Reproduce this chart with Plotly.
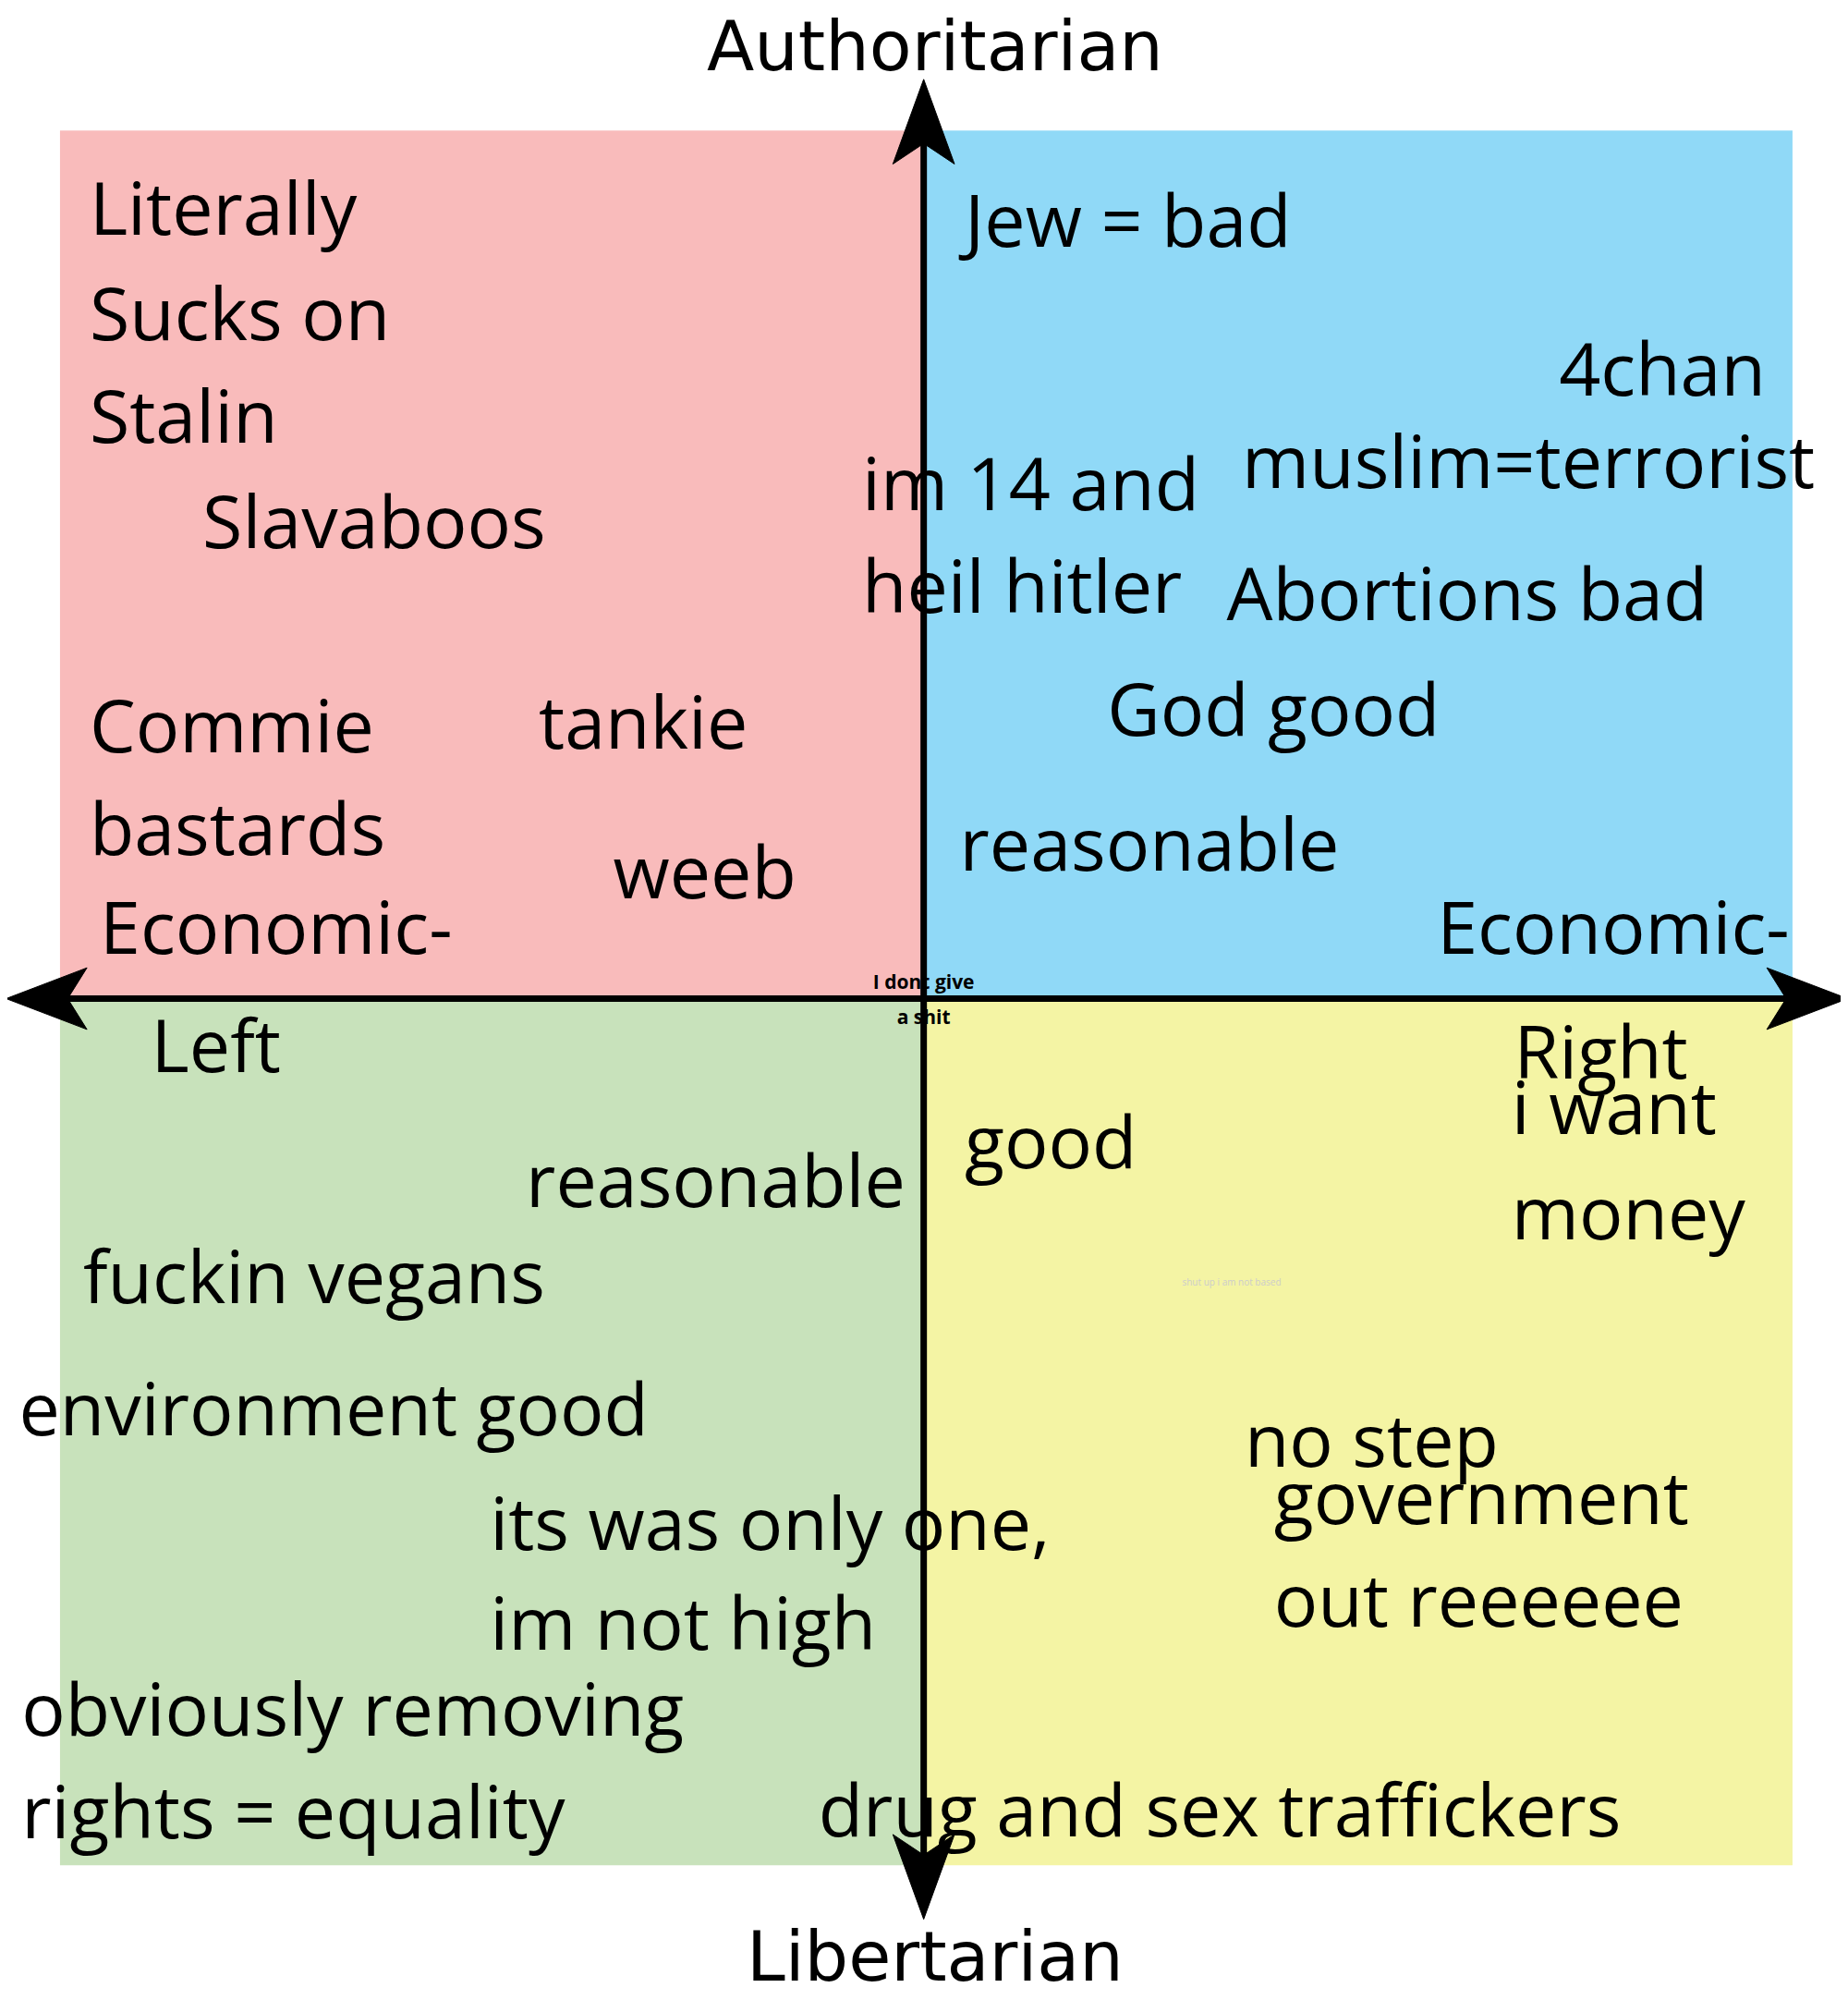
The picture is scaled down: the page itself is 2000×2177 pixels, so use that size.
import plotly.graph_objects as go

# chart drawn in the 1440 x 1567 grid of the source picture
W, H = 1440, 1567
PAGE_SHIFT = 6  # compensates the browser's default body margin
TEXT_DROP = 6   # text boxes sit slightly high in plotly, nudge them down
CX, CY = 720, 778
LEFT, RIGHT, TOP, BOTTOM = 47, 1397, 102, 1453

quadrant_colors = {"auth_left": "#f9bbbb", "auth_right": "#90d9f7",
                   "lib_left": "#c8e2bb", "lib_right": "#f4f4a4"}

labels = ["Literally", "Sucks on", "Stalin", "Slavaboos", "Commie", "bastards",
          "tankie", "weeb", "Economic-", "Left",
          "Jew = bad", "4chan", "muslim=terrorist", "im 14 and", "heil hitler",
          "Abortions bad", "God good", "reasonable", "Economic-", "Right",
          "i want", "money", "good", "reasonable", "fuckin vegans",
          "environment good", "its was only one,", "im not high",
          "obviously removing", "rights = equality", "drug and sex traffickers",
          "no step", "government", "out reeeeee"]
label_x = [70, 70, 70, 158, 70, 70, 420, 478, 78, 118,
           752, 1215, 968, 672, 672, 956, 863, 748, 1120, 1180,
           1178, 1178, 752, 410, 65, 15, 382, 382, 17, 17, 638,
           970, 993, 993]
label_y = [163, 245, 325, 407, 566, 646, 563, 680, 723, 815,
           172, 288, 360, 377, 457, 463, 553, 658, 723, 820,
           863, 945, 890, 920, 995, 1098, 1187, 1265, 1332, 1412, 1410,
           1122, 1167, 1247]

center_note = ["I dont give", "a shit"]
center_note_y = [765, 792]

fig = go.Figure()

rects = [("auth_left", LEFT, TOP, CX, CY), ("auth_right", CX, TOP, RIGHT, CY),
         ("lib_left", LEFT, CY, CX, BOTTOM), ("lib_right", CX, CY, RIGHT, BOTTOM)]
for key, x0, y0, x1, y1 in rects:
    fig.add_shape(type="rect", x0=x0, y0=y0, x1=x1, y1=y1,
                  fillcolor=quadrant_colors[key], line_width=0, layer="below")

# axes
fig.add_shape(type="line", x0=CX, y0=80, x1=CX, y1=1480, line=dict(color="black", width=7))
fig.add_shape(type="line", x0=20, y0=CY, x1=1425, y1=CY, line=dict(color="black", width=7))
heads = [
    f"M {CX},62 L {CX+24},128 L {CX},112 L {CX-24},128 Z",
    f"M {CX},1495 L {CX+24},1429 L {CX},1445 L {CX-24},1429 Z",
    f"M 5,{CY} L 68,{CY-24} L 53,{CY} L 68,{CY+24} Z",
    f"M 1440,{CY} L 1377,{CY-24} L 1392,{CY} L 1377,{CY+24} Z",
]
for p in heads:
    fig.add_shape(type="path", path=p, fillcolor="black", line=dict(color="black", width=1))

fig.add_trace(go.Scatter(x=label_x, y=[y + TEXT_DROP for y in label_y], mode="text",
                         text=labels, textposition="middle right",
                         textfont=dict(family="Open Sans", size=79, color="black"),
                         hoverinfo="skip", showlegend=False))
fig.add_trace(go.Scatter(x=[CX] * 2, y=[y + 2 for y in center_note_y], mode="text",
                         text=[f"<b>{t}</b>" for t in center_note],
                         textfont=dict(family="Open Sans", size=21, color="black"),
                         hoverinfo="skip", showlegend=False))
fig.add_trace(go.Scatter(x=[960], y=[1000], mode="text", text=["shut up i am not based"],
                         textfont=dict(family="Open Sans", size=10, color="#cccccc"),
                         hoverinfo="skip", showlegend=False))

for txt, y in [("Authoritarian", 36), ("Libertarian", 1524)]:
    fig.add_annotation(x=729, y=y, text=txt, showarrow=False,
                       font=dict(family="DejaVu Sans", size=75, color="black"))

fig.update_layout(width=2000, height=2177, margin=dict(l=0, r=0, t=0, b=0),
                  paper_bgcolor="white", plot_bgcolor="white",
                  xaxis=dict(range=[PAGE_SHIFT, W + PAGE_SHIFT], visible=False, fixedrange=True),
                  yaxis=dict(range=[H + PAGE_SHIFT, PAGE_SHIFT], visible=False, fixedrange=True))

fig.write_html("out.html")
